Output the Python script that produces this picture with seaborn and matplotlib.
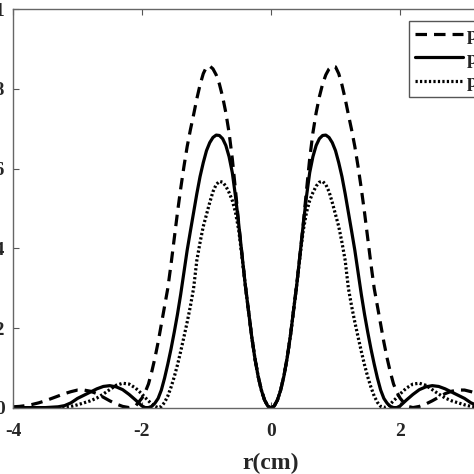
import numpy as np
import pandas as pd
import matplotlib
matplotlib.use("Agg")
import matplotlib.pyplot as plt
import seaborn as sns

# r values (cm): coarse in the outer wings, finer across the main lobes
r = [-4.0, -3.9, -3.8, -3.7, -3.6, -3.5, -3.4, -3.3, -3.2, -3.1, -3.0, -2.9, -2.8, -2.7, -2.6,
     -2.5, -2.4, -2.3, -2.2, -2.1, -2.0,
     -1.95, -1.9, -1.85, -1.8, -1.75, -1.7, -1.65, -1.6, -1.55, -1.5, -1.45, -1.4, -1.35, -1.3,
     -1.25, -1.2, -1.15, -1.1, -1.05, -1.0, -0.95, -0.9, -0.85, -0.8, -0.75, -0.7, -0.65, -0.6,
     -0.55, -0.5, -0.45, -0.4, -0.35, -0.3, -0.25, -0.2, -0.15, -0.1, -0.05,
     0.0, 0.05, 0.1, 0.15, 0.2, 0.25, 0.3, 0.35, 0.4, 0.45, 0.5, 0.55, 0.6, 0.65, 0.7, 0.75,
     0.8, 0.85, 0.9, 0.95, 1.0, 1.05, 1.1, 1.15, 1.2, 1.25, 1.3, 1.35, 1.4, 1.45, 1.5, 1.55,
     1.6, 1.65, 1.7, 1.75, 1.8, 1.85, 1.9, 1.95,
     2.0, 2.1, 2.2, 2.3, 2.4, 2.5, 2.6, 2.7, 2.8, 2.9, 3.0, 3.1, 3.2, 3.3, 3.4, 3.5, 3.6, 3.7,
     3.8, 3.9, 4.0]

# dashed series
series_1 = [0.003, 0.004, 0.006, 0.009, 0.013, 0.018, 0.024, 0.030, 0.036, 0.041, 0.045, 0.045,
            0.042, 0.036, 0.027, 0.018, 0.010, 0.004, 0.001, 0.005, 0.025,
            0.040, 0.060, 0.090, 0.125, 0.165, 0.210, 0.255, 0.300, 0.360, 0.425, 0.490, 0.550,
            0.605, 0.655, 0.697, 0.735, 0.775, 0.810, 0.838, 0.855, 0.857, 0.850, 0.835, 0.812,
            0.780, 0.740, 0.690, 0.625, 0.545, 0.460, 0.385, 0.310, 0.245, 0.180, 0.125, 0.080,
            0.045, 0.020, 0.005,
            0.000, 0.005, 0.020, 0.045, 0.080, 0.125, 0.180, 0.245, 0.310, 0.385, 0.460, 0.545,
            0.625, 0.690, 0.740, 0.780, 0.812, 0.835, 0.850, 0.857, 0.855, 0.838, 0.810, 0.775,
            0.735, 0.697, 0.655, 0.605, 0.550, 0.490, 0.425, 0.360, 0.300, 0.255, 0.210, 0.165,
            0.125, 0.090, 0.060, 0.040,
            0.025, 0.005, 0.001, 0.004, 0.010, 0.018, 0.027, 0.036, 0.042, 0.045, 0.045, 0.041,
            0.036, 0.030, 0.024, 0.018, 0.013, 0.009, 0.006, 0.004, 0.003]

# solid series
series_2 = [0.001, 0.001, 0.001, 0.001, 0.001, 0.001, 0.002, 0.003, 0.006, 0.013, 0.024, 0.032,
            0.040, 0.048, 0.054, 0.056, 0.053, 0.046, 0.034, 0.020, 0.005,
            0.001, 0.001, 0.004, 0.012, 0.024, 0.045, 0.075, 0.110, 0.148, 0.190, 0.235, 0.285,
            0.340, 0.395, 0.443, 0.490, 0.537, 0.580, 0.615, 0.645, 0.665, 0.678, 0.684, 0.683,
            0.675, 0.658, 0.630, 0.590, 0.530, 0.460, 0.385, 0.310, 0.245, 0.180, 0.125, 0.080,
            0.045, 0.020, 0.005,
            0.000, 0.005, 0.020, 0.045, 0.080, 0.125, 0.180, 0.245, 0.310, 0.385, 0.460, 0.530,
            0.590, 0.630, 0.658, 0.675, 0.683, 0.684, 0.678, 0.665, 0.645, 0.615, 0.580, 0.537,
            0.490, 0.443, 0.395, 0.340, 0.285, 0.235, 0.190, 0.148, 0.110, 0.075, 0.045, 0.024,
            0.012, 0.004, 0.001, 0.001,
            0.005, 0.020, 0.034, 0.046, 0.053, 0.056, 0.054, 0.048, 0.040, 0.032, 0.024, 0.013,
            0.006, 0.003, 0.002, 0.001, 0.001, 0.001, 0.001, 0.001, 0.001]

# dotted series
series_3 = [0.001, 0.001, 0.001, 0.001, 0.001, 0.001, 0.001, 0.001, 0.002, 0.004, 0.008, 0.013,
            0.018, 0.025, 0.035, 0.046, 0.057, 0.062, 0.060, 0.050, 0.035,
            0.026, 0.018, 0.010, 0.004, 0.001, 0.004, 0.014, 0.030, 0.052, 0.078, 0.108, 0.142,
            0.178, 0.215, 0.255, 0.300, 0.370, 0.415, 0.455, 0.485, 0.515, 0.542, 0.560, 0.568,
            0.566, 0.556, 0.540, 0.520, 0.490, 0.445, 0.380, 0.310, 0.245, 0.180, 0.125, 0.080,
            0.045, 0.020, 0.005,
            0.000, 0.005, 0.020, 0.045, 0.080, 0.125, 0.180, 0.245, 0.310, 0.380, 0.445, 0.490,
            0.520, 0.540, 0.556, 0.566, 0.568, 0.560, 0.542, 0.515, 0.485, 0.455, 0.415, 0.370,
            0.300, 0.255, 0.215, 0.178, 0.142, 0.108, 0.078, 0.052, 0.030, 0.014, 0.004, 0.001,
            0.004, 0.010, 0.018, 0.026,
            0.035, 0.050, 0.060, 0.062, 0.057, 0.046, 0.035, 0.025, 0.018, 0.013, 0.008, 0.004,
            0.002, 0.001, 0.001, 0.001, 0.001, 0.001, 0.001, 0.001, 0.001]

labels = ["p = 1", "p = 2", "p = 3"]
x_ticks = [-4, -2, 0, 2, 4]
x_ticklabels = ["-4", "-2", "0", "2", "4"]
y_ticks = [0, 0.2, 0.4, 0.6, 0.8, 1.0]
y_ticklabels = ["0", "0.2", "0.4", "0.6", "0.8", "1"]
x_label = "r(cm)"

sns.set_style("ticks")
plt.rcParams["font.family"] = ["Liberation Serif", "DejaVu Serif"]
plt.rcParams["font.weight"] = "bold"

W = H = 474
fig = plt.figure(figsize=(4.74, 4.74), dpi=100)
ax_left, ax_right, ax_top, ax_bottom = 13, 529, 9, 408
ax = fig.add_axes([ax_left / W, 1 - ax_bottom / H, (ax_right - ax_left) / W, (ax_bottom - ax_top) / H])

df = pd.DataFrame({"r": r, "s1": series_1, "s2": series_2, "s3": series_3})
styles = [(0, (3.6, 2.2)), "-", (0, (0.7, 0.7))]
for col, lab, ls in zip(["s1", "s2", "s3"], labels, styles):
    sns.lineplot(data=df, x="r", y=col, ax=ax, color="black", linestyle=ls, linewidth=2.3,
                 estimator=None, sort=False, label=lab, legend=False)

ax.set_xlim(-4, 4)
ax.set_ylim(0, 1)
ax.set_xticks(x_ticks)
ax.set_xticklabels(x_ticklabels)
ax.set_yticks(y_ticks)
ax.set_yticklabels(y_ticklabels)
ax.set_xlabel(x_label, fontsize=17, fontweight="bold", labelpad=9)
ax.set_ylabel("")
ax.tick_params(axis="x", direction="in", top=True, length=4, width=0.8, color="#555555",
               labelsize=14, pad=11)
ax.tick_params(axis="y", direction="in", right=True, length=4, width=0.8, color="#555555",
               labelsize=14, pad=6)
for lab in ax.get_xticklabels() + ax.get_yticklabels():
    lab.set_fontweight("bold")
for s in ax.spines.values():
    s.set_color("#666666")
    s.set_linewidth(1.0)

h, l = ax.get_legend_handles_labels()
leg = ax.legend(h, l, loc="upper left", bbox_to_anchor=(409 / W, 1 - 21 / H),
                bbox_transform=fig.transFigure, fontsize=14, handlelength=2.5,
                handletextpad=0.2, labelspacing=0.3, borderpad=0.3, borderaxespad=0,
                fancybox=False, framealpha=1, edgecolor="#555555")
leg.get_frame().set_linewidth(1.0)

fig.savefig("out.png", dpi=100)
